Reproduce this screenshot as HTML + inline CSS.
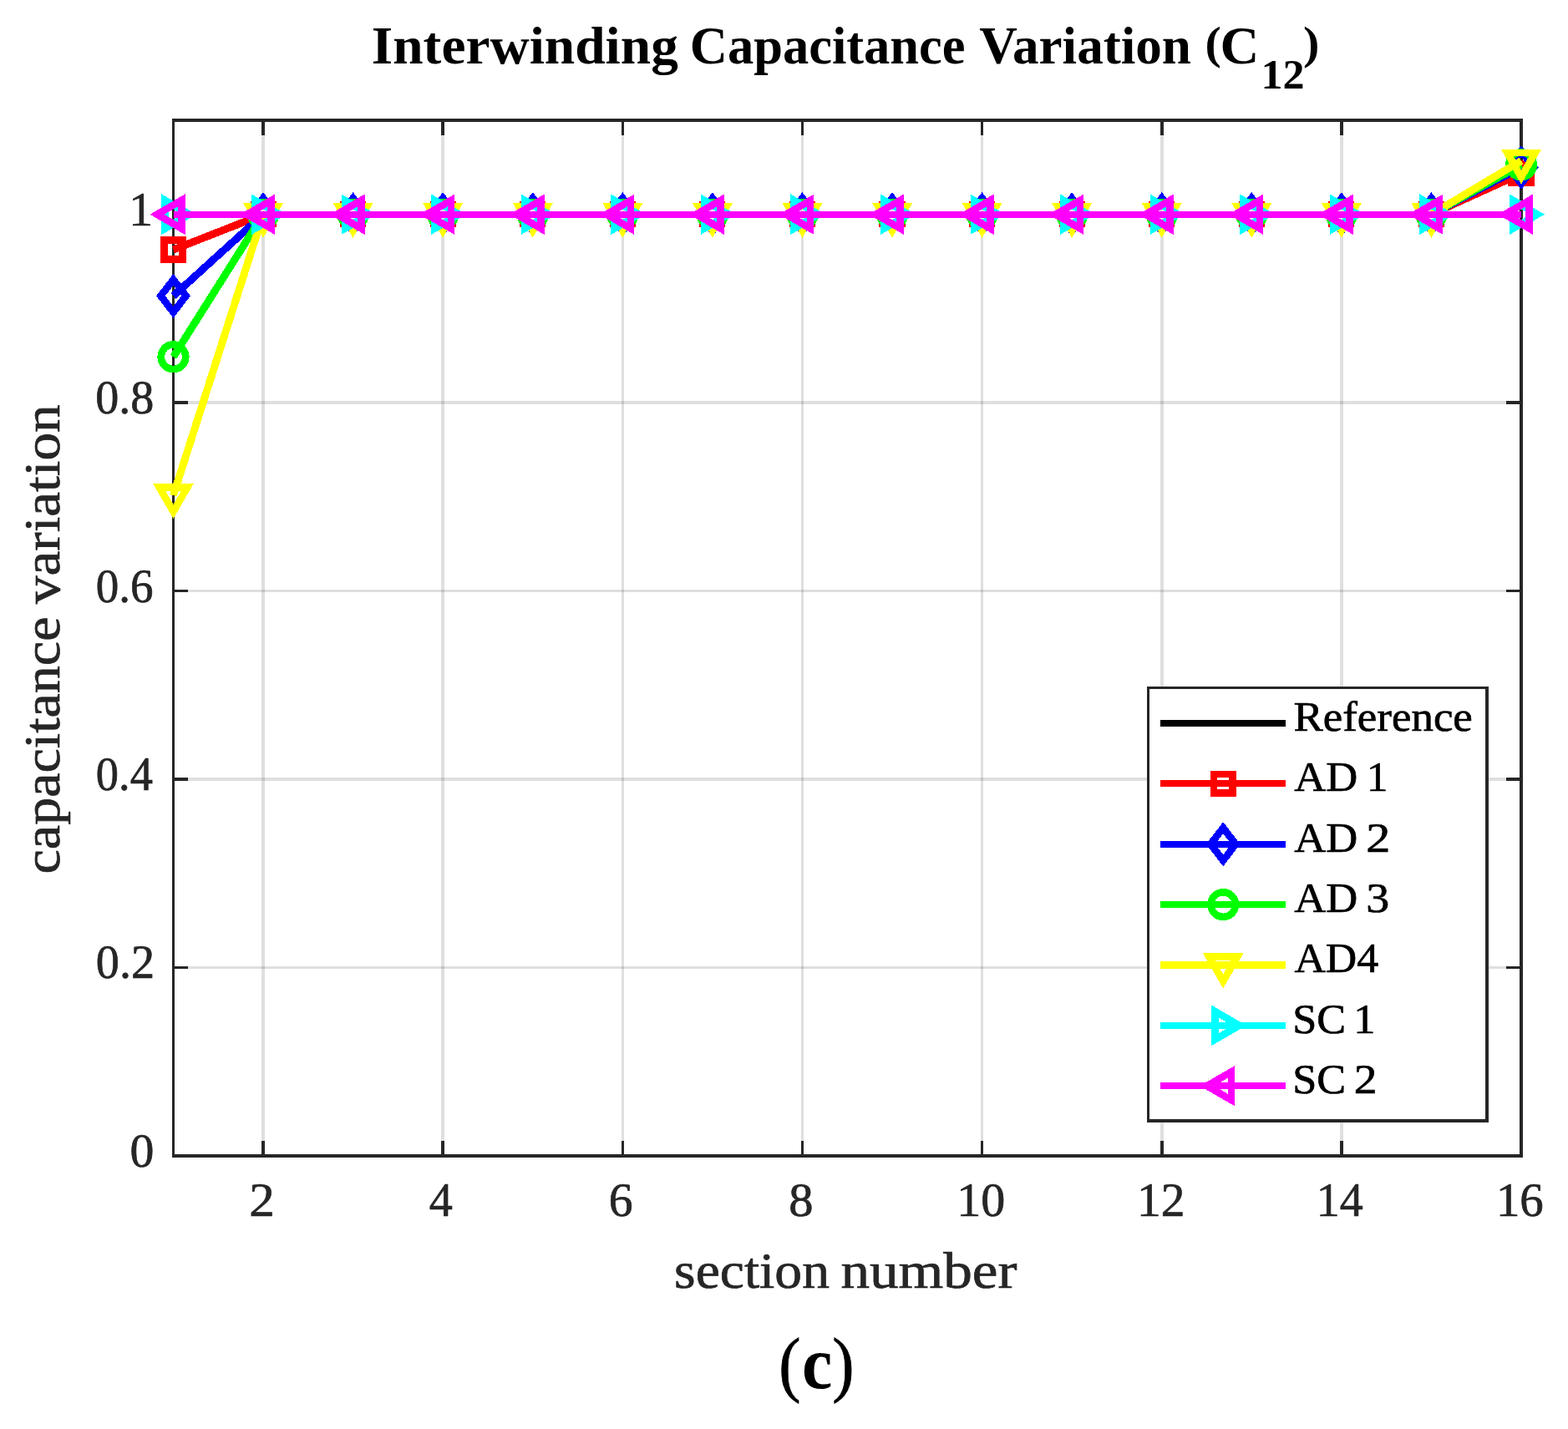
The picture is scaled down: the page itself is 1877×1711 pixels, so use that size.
<!DOCTYPE html><html><head><meta charset="utf-8"><title>Interwinding Capacitance Variation</title><style>html,body{margin:0;padding:0;background:#fff;}svg{display:block;}text{font-family:"Liberation Serif", serif;}</style></head><body>
<svg width="1877" height="1711" viewBox="0 0 1877 1711">
<rect width="1877" height="1711" fill="#fff"/>
<path d="M315.07 144.00V1383.90M530.20 144.00V1383.90M745.33 144.00V1383.90M960.47 144.00V1383.90M1175.60 144.00V1383.90M1390.73 144.00V1383.90M1605.87 144.00V1383.90" stroke="#262626" stroke-opacity="0.15" stroke-width="3.6" fill="none" shape-rendering="crispEdges"/>
<path d="M207.50 1158.46H1821.00M207.50 933.03H1821.00M207.50 707.59H1821.00M207.50 482.15H1821.00M207.50 256.72H1821.00" stroke="#262626" stroke-opacity="0.15" stroke-width="3.6" fill="none" shape-rendering="crispEdges"/>
<path d="M315.07 1383.90V1365.90M315.07 144.00V162.00M530.20 1383.90V1365.90M530.20 144.00V162.00M745.33 1383.90V1365.90M745.33 144.00V162.00M960.47 1383.90V1365.90M960.47 144.00V162.00M1175.60 1383.90V1365.90M1175.60 144.00V162.00M1390.73 1383.90V1365.90M1390.73 144.00V162.00M1605.87 1383.90V1365.90M1605.87 144.00V162.00M1821.00 1383.90V1365.90M1821.00 144.00V162.00M207.50 1383.90H224.90M1821.00 1383.90H1803.00M207.50 1158.46H224.90M1821.00 1158.46H1803.00M207.50 933.03H224.90M1821.00 933.03H1803.00M207.50 707.59H224.90M1821.00 707.59H1803.00M207.50 482.15H224.90M1821.00 482.15H1803.00M207.50 256.72H224.90M1821.00 256.72H1803.00" stroke="#262626" stroke-width="3.6" fill="none" shape-rendering="crispEdges"/>
<rect x="207.5" y="144.0" width="1613.50" height="1239.90" fill="none" stroke="#262626" stroke-width="3.6" shape-rendering="crispEdges"/>
<path d="M207.50 256.72L315.07 256.72M315.07 256.72L422.63 256.72M422.63 256.72L530.20 256.72M530.20 256.72L637.77 256.72M637.77 256.72L745.33 256.72M745.33 256.72L852.90 256.72M852.90 256.72L960.47 256.72M960.47 256.72L1068.03 256.72M1068.03 256.72L1175.60 256.72M1175.60 256.72L1283.17 256.72M1283.17 256.72L1390.73 256.72M1390.73 256.72L1498.30 256.72M1498.30 256.72L1605.87 256.72M1605.87 256.72L1713.43 256.72M1713.43 256.72L1821.00 256.72" fill="none" stroke="#000000" stroke-width="8.2" stroke-linecap="butt" shape-rendering="crispEdges"/>
<path d="M315.07 256.72L422.63 256.72M422.63 256.72L530.20 256.72M530.20 256.72L637.77 256.72M637.77 256.72L745.33 256.72M745.33 256.72L852.90 256.72M852.90 256.72L960.47 256.72M960.47 256.72L1068.03 256.72M1068.03 256.72L1175.60 256.72M1175.60 256.72L1283.17 256.72M1283.17 256.72L1390.73 256.72M1390.73 256.72L1498.30 256.72M1498.30 256.72L1605.87 256.72M1605.87 256.72L1713.43 256.72" fill="none" stroke="#ff0000" stroke-width="8.2" stroke-linecap="butt" shape-rendering="crispEdges"/>
<path d="M207.50 298.99L315.07 256.72M1713.43 256.72L1821.00 207.69" fill="none" stroke="#ff0000" stroke-width="9.0" stroke-linecap="butt" shape-rendering="crispEdges"/>
<path d="M196.25 287.74h22.50v22.50h-22.50ZM303.82 245.47h22.50v22.50h-22.50ZM411.38 245.47h22.50v22.50h-22.50ZM518.95 245.47h22.50v22.50h-22.50ZM626.52 245.47h22.50v22.50h-22.50ZM734.08 245.47h22.50v22.50h-22.50ZM841.65 245.47h22.50v22.50h-22.50ZM949.22 245.47h22.50v22.50h-22.50ZM1056.78 245.47h22.50v22.50h-22.50ZM1164.35 245.47h22.50v22.50h-22.50ZM1271.92 245.47h22.50v22.50h-22.50ZM1379.48 245.47h22.50v22.50h-22.50ZM1487.05 245.47h22.50v22.50h-22.50ZM1594.62 245.47h22.50v22.50h-22.50ZM1702.18 245.47h22.50v22.50h-22.50ZM1809.75 196.44h22.50v22.50h-22.50Z" fill="none" stroke="#ff0000" stroke-width="8.6" stroke-linejoin="miter" stroke-miterlimit="10" shape-rendering="crispEdges"/>
<path d="M315.07 256.72L422.63 256.72M422.63 256.72L530.20 256.72M530.20 256.72L637.77 256.72M637.77 256.72L745.33 256.72M745.33 256.72L852.90 256.72M852.90 256.72L960.47 256.72M960.47 256.72L1068.03 256.72M1068.03 256.72L1175.60 256.72M1175.60 256.72L1283.17 256.72M1283.17 256.72L1390.73 256.72M1390.73 256.72L1498.30 256.72M1498.30 256.72L1605.87 256.72M1605.87 256.72L1713.43 256.72" fill="none" stroke="#0000ff" stroke-width="8.2" stroke-linecap="butt" shape-rendering="crispEdges"/>
<path d="M207.50 354.33L315.07 256.72M1713.43 256.72L1821.00 200.47" fill="none" stroke="#0000ff" stroke-width="9.0" stroke-linecap="butt" shape-rendering="crispEdges"/>
<path d="M207.50 334.83L222.60 354.33L207.50 373.83L192.40 354.33ZM315.07 237.22L330.17 256.72L315.07 276.22L299.97 256.72ZM422.63 237.22L437.73 256.72L422.63 276.22L407.53 256.72ZM530.20 237.22L545.30 256.72L530.20 276.22L515.10 256.72ZM637.77 237.22L652.87 256.72L637.77 276.22L622.67 256.72ZM745.33 237.22L760.43 256.72L745.33 276.22L730.23 256.72ZM852.90 237.22L868.00 256.72L852.90 276.22L837.80 256.72ZM960.47 237.22L975.57 256.72L960.47 276.22L945.37 256.72ZM1068.03 237.22L1083.13 256.72L1068.03 276.22L1052.93 256.72ZM1175.60 237.22L1190.70 256.72L1175.60 276.22L1160.50 256.72ZM1283.17 237.22L1298.27 256.72L1283.17 276.22L1268.07 256.72ZM1390.73 237.22L1405.83 256.72L1390.73 276.22L1375.63 256.72ZM1498.30 237.22L1513.40 256.72L1498.30 276.22L1483.20 256.72ZM1605.87 237.22L1620.97 256.72L1605.87 276.22L1590.77 256.72ZM1713.43 237.22L1728.53 256.72L1713.43 276.22L1698.33 256.72ZM1821.00 180.97L1836.10 200.47L1821.00 219.97L1805.90 200.47Z" fill="none" stroke="#0000ff" stroke-width="8.6" stroke-linejoin="miter" stroke-miterlimit="10" shape-rendering="crispEdges"/>
<path d="M315.07 256.72L422.63 256.72M422.63 256.72L530.20 256.72M530.20 256.72L637.77 256.72M637.77 256.72L745.33 256.72M745.33 256.72L852.90 256.72M852.90 256.72L960.47 256.72M960.47 256.72L1068.03 256.72M1068.03 256.72L1175.60 256.72M1175.60 256.72L1283.17 256.72M1283.17 256.72L1390.73 256.72M1390.73 256.72L1498.30 256.72M1498.30 256.72L1605.87 256.72M1605.87 256.72L1713.43 256.72" fill="none" stroke="#00ff00" stroke-width="8.2" stroke-linecap="butt" shape-rendering="crispEdges"/>
<path d="M207.50 427.26L315.07 256.72M1713.43 256.72L1821.00 197.32" fill="none" stroke="#00ff00" stroke-width="9.0" stroke-linecap="butt" shape-rendering="crispEdges"/>
<path d="M192.70 427.26a14.8 14.8 0 1 0 29.60 0a14.8 14.8 0 1 0 -29.60 0ZM300.27 256.72a14.8 14.8 0 1 0 29.60 0a14.8 14.8 0 1 0 -29.60 0ZM407.83 256.72a14.8 14.8 0 1 0 29.60 0a14.8 14.8 0 1 0 -29.60 0ZM515.40 256.72a14.8 14.8 0 1 0 29.60 0a14.8 14.8 0 1 0 -29.60 0ZM622.97 256.72a14.8 14.8 0 1 0 29.60 0a14.8 14.8 0 1 0 -29.60 0ZM730.53 256.72a14.8 14.8 0 1 0 29.60 0a14.8 14.8 0 1 0 -29.60 0ZM838.10 256.72a14.8 14.8 0 1 0 29.60 0a14.8 14.8 0 1 0 -29.60 0ZM945.67 256.72a14.8 14.8 0 1 0 29.60 0a14.8 14.8 0 1 0 -29.60 0ZM1053.23 256.72a14.8 14.8 0 1 0 29.60 0a14.8 14.8 0 1 0 -29.60 0ZM1160.80 256.72a14.8 14.8 0 1 0 29.60 0a14.8 14.8 0 1 0 -29.60 0ZM1268.37 256.72a14.8 14.8 0 1 0 29.60 0a14.8 14.8 0 1 0 -29.60 0ZM1375.93 256.72a14.8 14.8 0 1 0 29.60 0a14.8 14.8 0 1 0 -29.60 0ZM1483.50 256.72a14.8 14.8 0 1 0 29.60 0a14.8 14.8 0 1 0 -29.60 0ZM1591.07 256.72a14.8 14.8 0 1 0 29.60 0a14.8 14.8 0 1 0 -29.60 0ZM1698.63 256.72a14.8 14.8 0 1 0 29.60 0a14.8 14.8 0 1 0 -29.60 0ZM1806.20 197.32a14.8 14.8 0 1 0 29.60 0a14.8 14.8 0 1 0 -29.60 0Z" fill="none" stroke="#00ff00" stroke-width="8.6" stroke-linejoin="miter" stroke-miterlimit="10" shape-rendering="crispEdges"/>
<path d="M315.07 256.72L422.63 256.72M422.63 256.72L530.20 256.72M530.20 256.72L637.77 256.72M637.77 256.72L745.33 256.72M745.33 256.72L852.90 256.72M852.90 256.72L960.47 256.72M960.47 256.72L1068.03 256.72M1068.03 256.72L1175.60 256.72M1175.60 256.72L1283.17 256.72M1283.17 256.72L1390.73 256.72M1390.73 256.72L1498.30 256.72M1498.30 256.72L1605.87 256.72M1605.87 256.72L1713.43 256.72" fill="none" stroke="#ffff00" stroke-width="8.2" stroke-linecap="butt" shape-rendering="crispEdges"/>
<path d="M207.50 593.18L315.07 256.72M1713.43 256.72L1821.00 192.58" fill="none" stroke="#ffff00" stroke-width="9.0" stroke-linecap="butt" shape-rendering="crispEdges"/>
<path d="M207.50 612.62L190.67 583.47L224.33 583.47ZM315.07 276.15L298.24 247.00L331.90 247.00ZM422.63 276.15L405.80 247.00L439.46 247.00ZM530.20 276.15L513.37 247.00L547.03 247.00ZM637.77 276.15L620.94 247.00L654.60 247.00ZM745.33 276.15L728.50 247.00L762.16 247.00ZM852.90 276.15L836.07 247.00L869.73 247.00ZM960.47 276.15L943.64 247.00L977.30 247.00ZM1068.03 276.15L1051.20 247.00L1084.86 247.00ZM1175.60 276.15L1158.77 247.00L1192.43 247.00ZM1283.17 276.15L1266.34 247.00L1300.00 247.00ZM1390.73 276.15L1373.90 247.00L1407.56 247.00ZM1498.30 276.15L1481.47 247.00L1515.13 247.00ZM1605.87 276.15L1589.04 247.00L1622.70 247.00ZM1713.43 276.15L1696.60 247.00L1730.26 247.00ZM1821.00 212.01L1804.17 182.86L1837.83 182.86Z" fill="none" stroke="#ffff00" stroke-width="8.6" stroke-linejoin="miter" stroke-miterlimit="10" shape-rendering="crispEdges"/>
<path d="M207.50 256.72L315.07 256.72M315.07 256.72L422.63 256.72M422.63 256.72L530.20 256.72M530.20 256.72L637.77 256.72M637.77 256.72L745.33 256.72M745.33 256.72L852.90 256.72M852.90 256.72L960.47 256.72M960.47 256.72L1068.03 256.72M1068.03 256.72L1175.60 256.72M1175.60 256.72L1283.17 256.72M1283.17 256.72L1390.73 256.72M1390.73 256.72L1498.30 256.72M1498.30 256.72L1605.87 256.72M1605.87 256.72L1713.43 256.72M1713.43 256.72L1821.00 256.72" fill="none" stroke="#00ffff" stroke-width="8.2" stroke-linecap="butt" shape-rendering="crispEdges"/>
<path d="M226.93 256.72L197.78 239.89L197.78 273.55ZM334.50 256.72L305.35 239.89L305.35 273.55ZM442.07 256.72L412.92 239.89L412.92 273.55ZM549.63 256.72L520.48 239.89L520.48 273.55ZM657.20 256.72L628.05 239.89L628.05 273.55ZM764.77 256.72L735.62 239.89L735.62 273.55ZM872.33 256.72L843.18 239.89L843.18 273.55ZM979.90 256.72L950.75 239.89L950.75 273.55ZM1087.47 256.72L1058.32 239.89L1058.32 273.55ZM1195.03 256.72L1165.88 239.89L1165.88 273.55ZM1302.60 256.72L1273.45 239.89L1273.45 273.55ZM1410.17 256.72L1381.02 239.89L1381.02 273.55ZM1517.73 256.72L1488.58 239.89L1488.58 273.55ZM1625.30 256.72L1596.15 239.89L1596.15 273.55ZM1732.87 256.72L1703.72 239.89L1703.72 273.55ZM1840.43 256.72L1811.28 239.89L1811.28 273.55Z" fill="none" stroke="#00ffff" stroke-width="8.6" stroke-linejoin="miter" stroke-miterlimit="10" shape-rendering="crispEdges"/>
<path d="M207.50 256.72L315.07 256.72M315.07 256.72L422.63 256.72M422.63 256.72L530.20 256.72M530.20 256.72L637.77 256.72M637.77 256.72L745.33 256.72M745.33 256.72L852.90 256.72M852.90 256.72L960.47 256.72M960.47 256.72L1068.03 256.72M1068.03 256.72L1175.60 256.72M1175.60 256.72L1283.17 256.72M1283.17 256.72L1390.73 256.72M1390.73 256.72L1498.30 256.72M1498.30 256.72L1605.87 256.72M1605.87 256.72L1713.43 256.72M1713.43 256.72L1821.00 256.72" fill="none" stroke="#ff00ff" stroke-width="8.2" stroke-linecap="butt" shape-rendering="crispEdges"/>
<path d="M188.07 256.72L217.22 239.89L217.22 273.55ZM295.63 256.72L324.78 239.89L324.78 273.55ZM403.20 256.72L432.35 239.89L432.35 273.55ZM510.77 256.72L539.92 239.89L539.92 273.55ZM618.33 256.72L647.48 239.89L647.48 273.55ZM725.90 256.72L755.05 239.89L755.05 273.55ZM833.47 256.72L862.62 239.89L862.62 273.55ZM941.03 256.72L970.18 239.89L970.18 273.55ZM1048.60 256.72L1077.75 239.89L1077.75 273.55ZM1156.17 256.72L1185.32 239.89L1185.32 273.55ZM1263.73 256.72L1292.88 239.89L1292.88 273.55ZM1371.30 256.72L1400.45 239.89L1400.45 273.55ZM1478.87 256.72L1508.02 239.89L1508.02 273.55ZM1586.43 256.72L1615.58 239.89L1615.58 273.55ZM1694.00 256.72L1723.15 239.89L1723.15 273.55ZM1801.57 256.72L1830.72 239.89L1830.72 273.55Z" fill="none" stroke="#ff00ff" stroke-width="8.6" stroke-linejoin="miter" stroke-miterlimit="10" shape-rendering="crispEdges"/>
<text x="298.21" y="1456.40" font-size="58.00" stroke="#262626" stroke-width="0.7" fill="#262626" textLength="30.55" lengthAdjust="spacingAndGlyphs">2</text>
<text x="513.77" y="1456.40" font-size="58.00" stroke="#262626" stroke-width="0.7" fill="#262626" textLength="28.13" lengthAdjust="spacingAndGlyphs">4</text>
<text x="728.72" y="1456.40" font-size="58.00" stroke="#262626" stroke-width="0.7" fill="#262626" textLength="28.81" lengthAdjust="spacingAndGlyphs">6</text>
<text x="944.28" y="1456.40" font-size="58.00" stroke="#262626" stroke-width="0.7" fill="#262626" textLength="29.25" lengthAdjust="spacingAndGlyphs">8</text>
<text x="1145.21" y="1456.40" font-size="58.00" stroke="#262626" stroke-width="0.7" fill="#262626">10</text>
<text x="1360.95" y="1456.40" font-size="58.00" stroke="#262626" stroke-width="0.7" fill="#262626" textLength="57.41" lengthAdjust="spacingAndGlyphs">12</text>
<text x="1575.67" y="1456.40" font-size="58.00" stroke="#262626" stroke-width="0.7" fill="#262626" textLength="56.03" lengthAdjust="spacingAndGlyphs">14</text>
<text x="1790.90" y="1456.40" font-size="58.00" stroke="#262626" stroke-width="0.7" fill="#262626" textLength="56.80" lengthAdjust="spacingAndGlyphs">16</text>
<text x="155.40" y="1397.00" font-size="58.00" stroke="#262626" stroke-width="0.7" fill="#262626" textLength="28.89" lengthAdjust="spacingAndGlyphs">0</text>
<text x="114.76" y="1171.00" font-size="58.00" stroke="#262626" stroke-width="0.7" fill="#262626" textLength="70.33" lengthAdjust="spacingAndGlyphs">0.2</text>
<text x="114.83" y="946.13" font-size="58.00" stroke="#262626" stroke-width="0.7" fill="#262626" textLength="68.04" lengthAdjust="spacingAndGlyphs">0.4</text>
<text x="114.81" y="721.00" font-size="58.00" stroke="#262626" stroke-width="0.7" fill="#262626" textLength="68.85" lengthAdjust="spacingAndGlyphs">0.6</text>
<text x="114.17" y="495.40" font-size="58.00" stroke="#262626" stroke-width="0.7" fill="#262626" textLength="70.06" lengthAdjust="spacingAndGlyphs">0.8</text>
<text x="154.25" y="270.00" font-size="58.00" stroke="#262626" stroke-width="0.7" fill="#262626" textLength="28.69" lengthAdjust="spacingAndGlyphs">1</text>
<text x="807.11" y="1541.60" font-size="60.50" stroke="#262626" stroke-width="0.7" fill="#262626" textLength="185.84" lengthAdjust="spacingAndGlyphs">section</text>
<text x="1006.41" y="1541.60" font-size="60.50" stroke="#262626" stroke-width="0.7" fill="#262626" textLength="211.09" lengthAdjust="spacingAndGlyphs">number</text>
<text transform="translate(71.00 1044.00) rotate(-90)" x="-2.51" y="0" font-size="60.5" fill="#262626" stroke="#262626" stroke-width="0.7" textLength="307.99" lengthAdjust="spacingAndGlyphs">capacitance</text>
<text transform="translate(71.00 723.00) rotate(-90)" x="-0.00" y="0" font-size="60.5" fill="#262626" stroke="#262626" stroke-width="0.7" textLength="238.52" lengthAdjust="spacingAndGlyphs">variation</text>
<text x="444.78" y="75.70" font-size="63.00" font-weight="bold" fill="#000" textLength="367.10" lengthAdjust="spacingAndGlyphs">Interwinding</text>
<text x="825.84" y="75.70" font-size="63.00" font-weight="bold" fill="#000" textLength="329.78" lengthAdjust="spacingAndGlyphs">Capacitance</text>
<text x="1172.21" y="75.70" font-size="63.00" font-weight="bold" fill="#000" textLength="253.74" lengthAdjust="spacingAndGlyphs">Variation</text>
<text x="1442.45" y="70.39" font-size="54.02" font-weight="bold" fill="#000" textLength="19.31" lengthAdjust="spacingAndGlyphs">(</text>
<text x="1460.62" y="76.30" font-size="63.00" font-weight="bold" fill="#000" textLength="46.81" lengthAdjust="spacingAndGlyphs">C</text>
<text x="1509.43" y="106.10" font-size="50.60" font-weight="bold" fill="#000" textLength="52.11" lengthAdjust="spacingAndGlyphs">12</text>
<text x="1560.03" y="70.39" font-size="54.02" font-weight="bold" fill="#000" textLength="19.44" lengthAdjust="spacingAndGlyphs">)</text>
<text x="932.22" y="1661.66" font-size="86.11" stroke="#000" stroke-width="0.7" fill="#000" textLength="26.30" lengthAdjust="spacingAndGlyphs">(</text>
<text x="960.02" y="1662.30" font-size="89.00" font-weight="bold" fill="#000" textLength="36.31" lengthAdjust="spacingAndGlyphs">c</text>
<text x="996.37" y="1661.66" font-size="86.11" stroke="#000" stroke-width="0.7" fill="#000" textLength="26.30" lengthAdjust="spacingAndGlyphs">)</text>
<path d="M1373 822H1782V1344H1373ZM1376 825V1340H1778V825Z" fill="#262626" fill-rule="evenodd" shape-rendering="crispEdges"/><rect x="1376" y="825" width="402" height="515" fill="#fff"/>
<path d="M1389 866.00H1539" stroke="#000000" stroke-width="8.2" fill="none" shape-rendering="crispEdges"/>
<path d="M1389 938.37H1539" stroke="#ff0000" stroke-width="8.2" fill="none" shape-rendering="crispEdges"/>
<path d="M1452.95 927.12h22.50v22.50h-22.50Z" fill="none" stroke="#ff0000" stroke-width="8.6" stroke-miterlimit="10" shape-rendering="crispEdges"/>
<path d="M1389 1010.74H1539" stroke="#0000ff" stroke-width="8.2" fill="none" shape-rendering="crispEdges"/>
<path d="M1464.20 991.24L1479.30 1010.74L1464.20 1030.24L1449.10 1010.74Z" fill="none" stroke="#0000ff" stroke-width="8.6" stroke-miterlimit="10" shape-rendering="crispEdges"/>
<path d="M1389 1083.11H1539" stroke="#00ff00" stroke-width="8.2" fill="none" shape-rendering="crispEdges"/>
<path d="M1449.40 1083.11a14.8 14.8 0 1 0 29.60 0a14.8 14.8 0 1 0 -29.60 0Z" fill="none" stroke="#00ff00" stroke-width="8.6" stroke-miterlimit="10" shape-rendering="crispEdges"/>
<path d="M1389 1155.48H1539" stroke="#ffff00" stroke-width="8.2" fill="none" shape-rendering="crispEdges"/>
<path d="M1464.20 1174.91L1447.37 1145.76L1481.03 1145.76Z" fill="none" stroke="#ffff00" stroke-width="8.6" stroke-miterlimit="10" shape-rendering="crispEdges"/>
<path d="M1389 1227.85H1539" stroke="#00ffff" stroke-width="8.2" fill="none" shape-rendering="crispEdges"/>
<path d="M1483.63 1227.85L1454.48 1211.02L1454.48 1244.68Z" fill="none" stroke="#00ffff" stroke-width="8.6" stroke-miterlimit="10" shape-rendering="crispEdges"/>
<path d="M1389 1300.22H1539" stroke="#ff00ff" stroke-width="8.2" fill="none" shape-rendering="crispEdges"/>
<path d="M1444.77 1300.22L1473.92 1283.39L1473.92 1317.05Z" fill="none" stroke="#ff00ff" stroke-width="8.6" stroke-miterlimit="10" shape-rendering="crispEdges"/>
<text x="1548.47" y="874.80" font-size="51.50" stroke="#000" stroke-width="0.7" fill="#000" textLength="214.40" lengthAdjust="spacingAndGlyphs">Reference</text>
<text x="1549.37" y="947.15" font-size="51.50" stroke="#000" stroke-width="0.7" fill="#000" textLength="75.95" lengthAdjust="spacingAndGlyphs">AD</text>
<text x="1635.93" y="947.15" font-size="51.50" stroke="#000" stroke-width="0.7" fill="#000" textLength="25.43" lengthAdjust="spacingAndGlyphs">1</text>
<text x="1549.37" y="1019.50" font-size="51.50" stroke="#000" stroke-width="0.7" fill="#000" textLength="75.95" lengthAdjust="spacingAndGlyphs">AD</text>
<text x="1635.34" y="1019.50" font-size="51.50" stroke="#000" stroke-width="0.7" fill="#000" textLength="29.05" lengthAdjust="spacingAndGlyphs">2</text>
<text x="1549.37" y="1091.85" font-size="51.50" stroke="#000" stroke-width="0.7" fill="#000" textLength="75.95" lengthAdjust="spacingAndGlyphs">AD</text>
<text x="1635.22" y="1091.85" font-size="51.50" stroke="#000" stroke-width="0.7" fill="#000" textLength="27.97" lengthAdjust="spacingAndGlyphs">3</text>
<text x="1549.38" y="1164.20" font-size="51.50" stroke="#000" stroke-width="0.7" fill="#000" textLength="100.77" lengthAdjust="spacingAndGlyphs">AD4</text>
<text x="1547.20" y="1236.55" font-size="51.50" stroke="#000" stroke-width="0.7" fill="#000" textLength="63.88" lengthAdjust="spacingAndGlyphs">SC</text>
<text x="1620.20" y="1236.55" font-size="51.50" stroke="#000" stroke-width="0.7" fill="#000" textLength="26.14" lengthAdjust="spacingAndGlyphs">1</text>
<text x="1547.20" y="1308.90" font-size="51.50" stroke="#000" stroke-width="0.7" fill="#000" textLength="63.88" lengthAdjust="spacingAndGlyphs">SC</text>
<text x="1620.66" y="1308.90" font-size="51.50" stroke="#000" stroke-width="0.7" fill="#000" textLength="27.68" lengthAdjust="spacingAndGlyphs">2</text>
</svg></body></html>
